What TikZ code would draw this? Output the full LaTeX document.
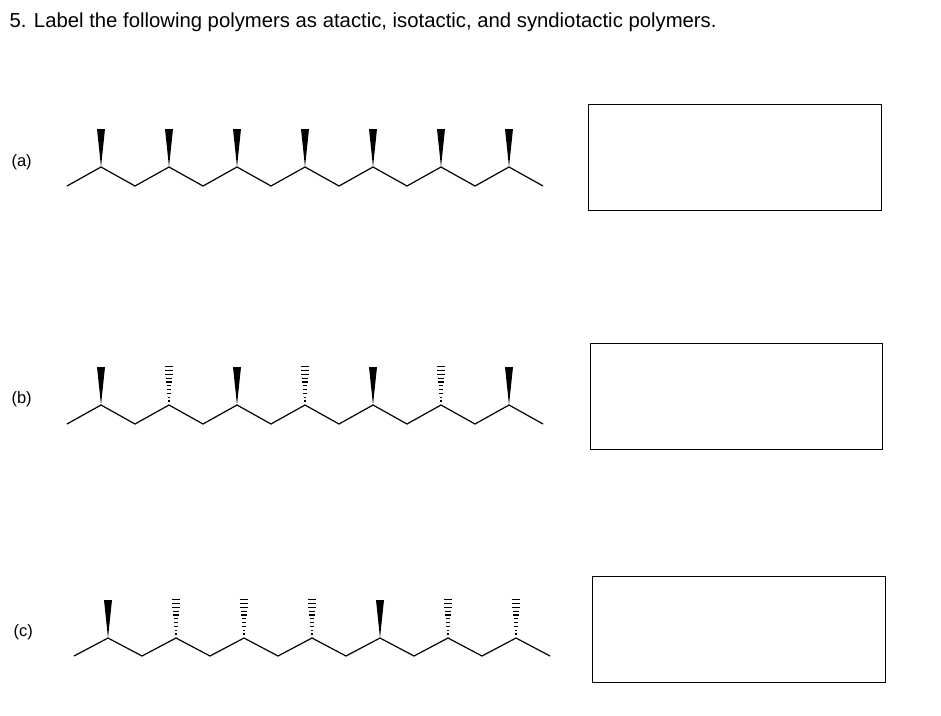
\documentclass[tikz,border=0pt]{standalone}
\usepackage{fontspec}
\setmainfont{Liberation Sans}
\begin{document}
\begin{tikzpicture}[x=1pt,y=-1pt,
  bond/.style={line width=1.2pt,line join=miter},
  box/.style={draw,line width=1pt},
  lbl/.style={font=\fontsize{16.5}{19}\selectfont,anchor=west}]
\useasboundingbox (0,0) rectangle (941,715);
\node[anchor=west,font=\fontsize{20.3}{24}\selectfont] (title) at (6,22) {5. Label the following polymers as atactic, isotactic, and syndiotactic polymers.};
\newcommand{\wdg}[2]{\fill (#1,#2) -- (#1-4,#2-38) -- (#1+4,#2-38) -- cycle;}
\newcommand{\hsh}[2]{\foreach \i in {0,...,9}{\pgfmathsetmacro{\yy}{#2-4-\i*3.8}\pgfmathsetmacro{\ww}{0.8+\i*0.4}\draw[line width=1.2pt] (#1-\ww,\yy) -- (#1+\ww,\yy);}}
\newcommand{\chain}[3]{% x0, ytop(peak), yvalley
  \draw[bond] (#1,#3) \foreach \k in {0,...,6}{ -- (#1+34+68*\k,#2) -- (#1+68+68*\k,#3)} -- (#1+476,#3);}
% (a)
\node[lbl] (la) at (8,162) {(a)};
\chain{67}{167}{186}
\foreach \k in {0,...,6}{\wdg{101+68*\k}{167}}
\node[box,minimum width=293,minimum height=106,anchor=north west] (ba) at (588,104) {};
% (b)
\node[lbl] (lb) at (8,399) {(b)};
\chain{67}{405}{424}
\foreach \k in {0,2,4,6}{\wdg{101+68*\k}{405}}
\foreach \k in {1,3,5}{\hsh{101+68*\k}{405}}
\node[box,minimum width=292,minimum height=106,anchor=north west] (bb) at (590,343) {};
% (c)
\node[lbl] (lc) at (10,632) {(c)};
\chain{74}{638}{656}
\foreach \k in {0,4}{\wdg{108+68*\k}{638}}
\foreach \k in {1,2,3,5,6}{\hsh{108+68*\k}{638}}
\node[box,minimum width=293,minimum height=106,anchor=north west] (bc) at (592,576) {};
\end{tikzpicture}
\end{document}
